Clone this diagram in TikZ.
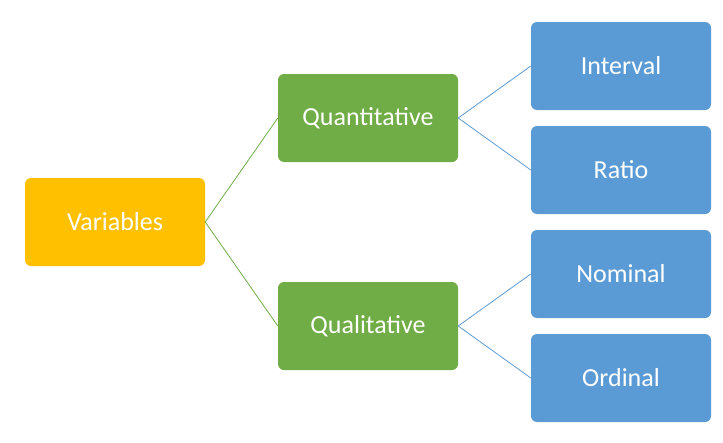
\documentclass[tikz,border=0pt]{standalone}
\usepackage{fontspec}
\setmainfont{Carlito}
\begin{document}
\begin{tikzpicture}[x=1pt,y=-1pt,
 box/.style={rounded corners=6pt,minimum width=180pt,minimum height=88pt,text=white,font=\fontsize{26}{30}\selectfont,inner sep=0pt},
 gl/.style={draw=green!45!black!60!white,line width=0.8pt,color={rgb,255:red,112;green,173;blue,71}},
 bl/.style={line width=0.8pt,color={rgb,255:red,91;green,155;blue,213}}]
\useasboundingbox (0,0) rectangle (723,442);
\definecolor{yel}{RGB}{255,192,0}
\definecolor{grn}{RGB}{112,173,71}
\definecolor{blu}{RGB}{91,155,213}
\node[box,fill=yel] (var) at (115,222) {Variables};
\node[box,fill=grn] (qn) at (368,118) {Quantitative};
\node[box,fill=grn] (ql) at (368,326) {Qualitative};
\node[box,fill=blu] (int) at (621,66) {Interval};
\node[box,fill=blu] (rat) at (621,170) {Ratio};
\node[box,fill=blu] (nom) at (621,274) {Nominal};
\node[box,fill=blu] (ord) at (621,378) {Ordinal};
\draw[gl] (var.east) -- (qn.west);
\draw[gl] (var.east) -- (ql.west);
\draw[bl] (qn.east) -- (int.west);
\draw[bl] (qn.east) -- (rat.west);
\draw[bl] (ql.east) -- (nom.west);
\draw[bl] (ql.east) -- (ord.west);
\end{tikzpicture}
\end{document}
